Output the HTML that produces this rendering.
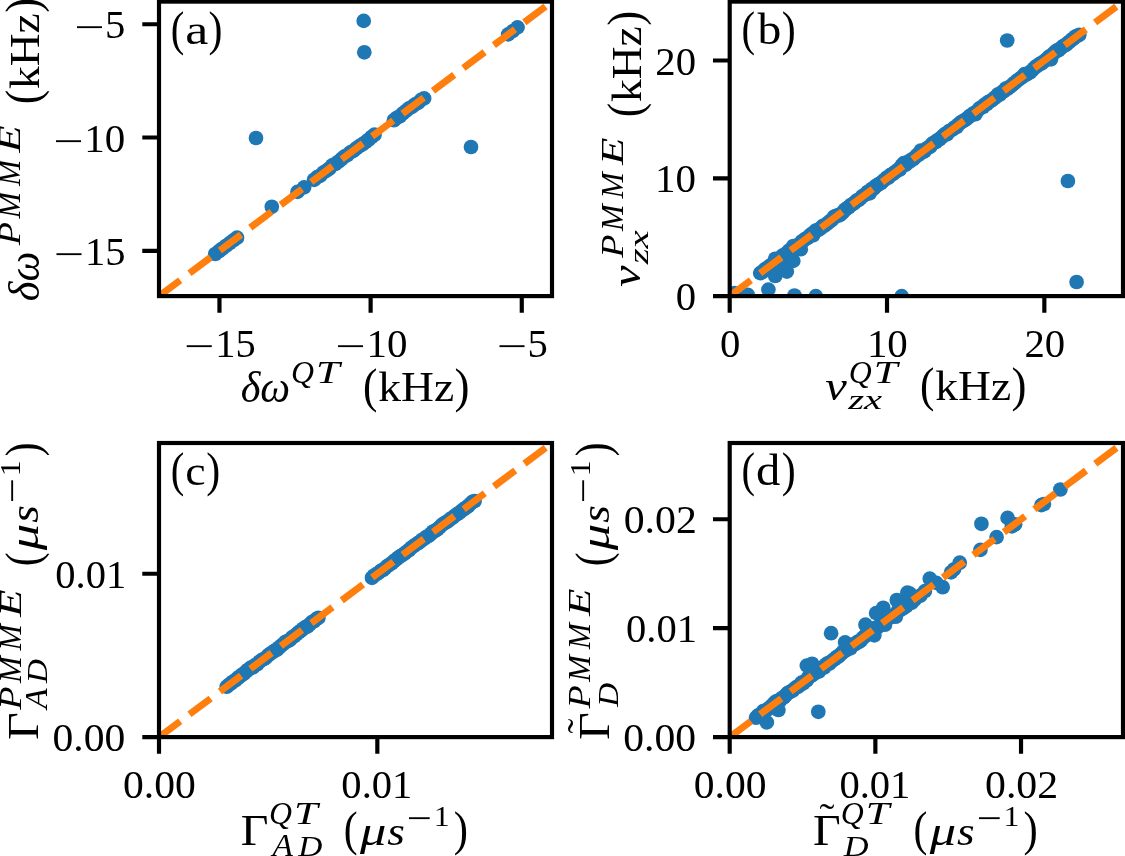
<!DOCTYPE html>
<html><head><meta charset="utf-8"><title>Figure</title>
<style>html,body{margin:0;padding:0;background:#fff}svg{display:block}</style></head>
<body>
<svg width="1125" height="856" viewBox="0 0 1125 856" font-family="'Liberation Serif', serif" fill="#000">
<rect width="1125" height="856" fill="#fff"/>
<defs>
<clipPath id="cpa"><rect x="159.0" y="1.6" width="393.00" height="294.50"/></clipPath>
<clipPath id="cpb"><rect x="729.7" y="1.6" width="393.30" height="294.50"/></clipPath>
<clipPath id="cpc"><rect x="159.0" y="443.0" width="393.00" height="294.10"/></clipPath>
<clipPath id="cpd"><rect x="729.7" y="443.0" width="393.30" height="294.10"/></clipPath>
</defs>
<g clip-path="url(#cpa)">
<g fill="#1f77b4"><circle cx="215.2" cy="254.0" r="7.35"/><circle cx="218.9" cy="251.2" r="7.35"/><circle cx="222.5" cy="248.5" r="7.35"/><circle cx="226.1" cy="245.8" r="7.35"/><circle cx="229.7" cy="243.1" r="7.35"/><circle cx="233.4" cy="240.4" r="7.35"/><circle cx="237.0" cy="237.7" r="7.35"/><circle cx="297.5" cy="191.9" r="7.35"/><circle cx="304.1" cy="187.4" r="7.35"/><circle cx="314.1" cy="179.8" r="7.35"/><circle cx="317.1" cy="177.1" r="7.35"/><circle cx="320.1" cy="175.8" r="7.35"/><circle cx="323.2" cy="172.6" r="7.35"/><circle cx="326.2" cy="170.9" r="7.35"/><circle cx="329.2" cy="168.7" r="7.35"/><circle cx="332.2" cy="165.4" r="7.35"/><circle cx="335.2" cy="164.0" r="7.35"/><circle cx="338.3" cy="161.8" r="7.35"/><circle cx="341.3" cy="159.2" r="7.35"/><circle cx="344.3" cy="156.7" r="7.35"/><circle cx="347.3" cy="155.0" r="7.35"/><circle cx="350.4" cy="152.4" r="7.35"/><circle cx="353.4" cy="150.9" r="7.35"/><circle cx="356.4" cy="148.3" r="7.35"/><circle cx="359.4" cy="146.1" r="7.35"/><circle cx="362.5" cy="144.2" r="7.35"/><circle cx="365.5" cy="142.1" r="7.35"/><circle cx="368.5" cy="139.8" r="7.35"/><circle cx="371.5" cy="137.0" r="7.35"/><circle cx="374.5" cy="134.7" r="7.35"/><circle cx="393.9" cy="120.2" r="7.35"/><circle cx="396.9" cy="117.8" r="7.35"/><circle cx="399.9" cy="116.2" r="7.35"/><circle cx="403.0" cy="113.3" r="7.35"/><circle cx="406.0" cy="110.9" r="7.35"/><circle cx="409.0" cy="108.4" r="7.35"/><circle cx="412.0" cy="106.9" r="7.35"/><circle cx="415.1" cy="104.4" r="7.35"/><circle cx="418.1" cy="102.9" r="7.35"/><circle cx="421.1" cy="99.9" r="7.35"/><circle cx="424.1" cy="98.4" r="7.35"/><circle cx="508.2" cy="34.4" r="7.35"/><circle cx="512.7" cy="31.1" r="7.35"/><circle cx="517.5" cy="27.4" r="7.35"/><circle cx="256.0" cy="138.0" r="7.35"/><circle cx="271.8" cy="206.8" r="7.35"/><circle cx="363.7" cy="20.9" r="7.35"/><circle cx="364.3" cy="52.3" r="7.35"/><circle cx="471.0" cy="147.0" r="7.35"/></g>
<line x1="159.0" y1="296.1" x2="552.0" y2="1.6" stroke="#ff7f0e" stroke-width="7.0" stroke-dasharray="26.5 11.54"/>
</g>
<path d="M219.46 296.1v16.7M370.62 296.1v16.7M521.77 296.1v16.7M159.0 250.79h-16.7M159.0 137.52h-16.7M159.0 24.25h-16.7" stroke="#000" stroke-width="4.17" fill="none"/>
<rect x="159.0" y="1.6" width="393.00" height="294.50" fill="none" stroke="#000" stroke-width="4.17"/>
<g clip-path="url(#cpb)">
<g fill="#1f77b4"><circle cx="760.2" cy="273.1" r="7.35"/><circle cx="762.1" cy="272.3" r="7.35"/><circle cx="764.0" cy="270.2" r="7.35"/><circle cx="765.9" cy="268.6" r="7.35"/><circle cx="767.8" cy="268.2" r="7.35"/><circle cx="769.7" cy="265.9" r="7.35"/><circle cx="771.5" cy="265.1" r="7.35"/><circle cx="773.4" cy="263.1" r="7.35"/><circle cx="775.3" cy="261.4" r="7.35"/><circle cx="777.2" cy="260.9" r="7.35"/><circle cx="779.1" cy="258.4" r="7.35"/><circle cx="781.0" cy="257.8" r="7.35"/><circle cx="782.9" cy="255.3" r="7.35"/><circle cx="784.8" cy="255.1" r="7.35"/><circle cx="786.6" cy="253.2" r="7.35"/><circle cx="788.5" cy="251.2" r="7.35"/><circle cx="790.4" cy="249.8" r="7.35"/><circle cx="792.3" cy="248.9" r="7.35"/><circle cx="794.2" cy="247.3" r="7.35"/><circle cx="796.1" cy="247.8" r="7.35"/><circle cx="798.0" cy="244.9" r="7.35"/><circle cx="799.9" cy="246.4" r="7.35"/><circle cx="801.8" cy="241.4" r="7.35"/><circle cx="803.6" cy="240.5" r="7.35"/><circle cx="805.5" cy="238.8" r="7.35"/><circle cx="807.4" cy="238.0" r="7.35"/><circle cx="809.3" cy="235.9" r="7.35"/><circle cx="811.2" cy="234.2" r="7.35"/><circle cx="813.1" cy="235.3" r="7.35"/><circle cx="815.0" cy="231.2" r="7.35"/><circle cx="816.9" cy="230.0" r="7.35"/><circle cx="818.7" cy="229.7" r="7.35"/><circle cx="820.6" cy="228.4" r="7.35"/><circle cx="822.5" cy="226.2" r="7.35"/><circle cx="824.4" cy="225.7" r="7.35"/><circle cx="826.3" cy="224.1" r="7.35"/><circle cx="828.2" cy="222.9" r="7.35"/><circle cx="830.1" cy="221.0" r="7.35"/><circle cx="832.0" cy="219.9" r="7.35"/><circle cx="833.8" cy="216.9" r="7.35"/><circle cx="835.7" cy="216.2" r="7.35"/><circle cx="837.6" cy="215.3" r="7.35"/><circle cx="839.5" cy="215.4" r="7.35"/><circle cx="841.4" cy="213.8" r="7.35"/><circle cx="843.3" cy="211.7" r="7.35"/><circle cx="845.2" cy="209.5" r="7.35"/><circle cx="847.1" cy="208.2" r="7.35"/><circle cx="848.9" cy="207.1" r="7.35"/><circle cx="850.8" cy="205.0" r="7.35"/><circle cx="852.7" cy="204.1" r="7.35"/><circle cx="854.6" cy="202.8" r="7.35"/><circle cx="856.5" cy="200.7" r="7.35"/><circle cx="858.4" cy="200.1" r="7.35"/><circle cx="860.3" cy="198.6" r="7.35"/><circle cx="862.2" cy="196.3" r="7.35"/><circle cx="864.1" cy="195.4" r="7.35"/><circle cx="865.9" cy="193.9" r="7.35"/><circle cx="867.8" cy="191.8" r="7.35"/><circle cx="869.7" cy="193.3" r="7.35"/><circle cx="871.6" cy="189.0" r="7.35"/><circle cx="873.5" cy="188.9" r="7.35"/><circle cx="875.4" cy="186.2" r="7.35"/><circle cx="877.3" cy="185.4" r="7.35"/><circle cx="879.2" cy="183.8" r="7.35"/><circle cx="881.0" cy="183.1" r="7.35"/><circle cx="882.9" cy="181.1" r="7.35"/><circle cx="884.8" cy="179.6" r="7.35"/><circle cx="886.7" cy="177.7" r="7.35"/><circle cx="888.6" cy="177.6" r="7.35"/><circle cx="890.5" cy="174.9" r="7.35"/><circle cx="892.4" cy="174.4" r="7.35"/><circle cx="894.3" cy="172.7" r="7.35"/><circle cx="896.1" cy="171.5" r="7.35"/><circle cx="898.0" cy="169.6" r="7.35"/><circle cx="899.9" cy="169.5" r="7.35"/><circle cx="901.8" cy="165.5" r="7.35"/><circle cx="903.7" cy="163.1" r="7.35"/><circle cx="905.6" cy="164.7" r="7.35"/><circle cx="907.5" cy="162.0" r="7.35"/><circle cx="909.4" cy="161.9" r="7.35"/><circle cx="911.2" cy="159.8" r="7.35"/><circle cx="913.1" cy="159.3" r="7.35"/><circle cx="915.0" cy="157.5" r="7.35"/><circle cx="916.9" cy="155.1" r="7.35"/><circle cx="918.8" cy="154.7" r="7.35"/><circle cx="920.7" cy="150.6" r="7.35"/><circle cx="922.6" cy="152.0" r="7.35"/><circle cx="924.5" cy="151.3" r="7.35"/><circle cx="926.3" cy="148.9" r="7.35"/><circle cx="928.2" cy="147.5" r="7.35"/><circle cx="930.1" cy="146.7" r="7.35"/><circle cx="932.0" cy="143.9" r="7.35"/><circle cx="933.9" cy="142.6" r="7.35"/><circle cx="935.8" cy="142.0" r="7.35"/><circle cx="937.7" cy="140.0" r="7.35"/><circle cx="939.6" cy="139.4" r="7.35"/><circle cx="941.5" cy="137.4" r="7.35"/><circle cx="943.3" cy="135.6" r="7.35"/><circle cx="945.2" cy="133.9" r="7.35"/><circle cx="947.1" cy="134.3" r="7.35"/><circle cx="949.0" cy="131.2" r="7.35"/><circle cx="950.9" cy="130.4" r="7.35"/><circle cx="952.8" cy="129.2" r="7.35"/><circle cx="954.7" cy="127.3" r="7.35"/><circle cx="956.6" cy="127.0" r="7.35"/><circle cx="958.4" cy="124.4" r="7.35"/><circle cx="960.3" cy="122.9" r="7.35"/><circle cx="962.2" cy="121.5" r="7.35"/><circle cx="964.1" cy="120.5" r="7.35"/><circle cx="966.0" cy="119.3" r="7.35"/><circle cx="967.9" cy="117.9" r="7.35"/><circle cx="969.8" cy="115.9" r="7.35"/><circle cx="971.7" cy="115.1" r="7.35"/><circle cx="973.5" cy="113.3" r="7.35"/><circle cx="975.4" cy="114.2" r="7.35"/><circle cx="977.3" cy="110.9" r="7.35"/><circle cx="979.2" cy="108.7" r="7.35"/><circle cx="981.1" cy="107.4" r="7.35"/><circle cx="983.0" cy="107.1" r="7.35"/><circle cx="984.9" cy="104.4" r="7.35"/><circle cx="986.8" cy="104.0" r="7.35"/><circle cx="988.6" cy="101.8" r="7.35"/><circle cx="990.5" cy="101.0" r="7.35"/><circle cx="992.4" cy="99.9" r="7.35"/><circle cx="994.3" cy="98.0" r="7.35"/><circle cx="996.2" cy="96.7" r="7.35"/><circle cx="998.1" cy="94.3" r="7.35"/><circle cx="1000.0" cy="94.5" r="7.35"/><circle cx="1001.9" cy="92.2" r="7.35"/><circle cx="1003.8" cy="91.2" r="7.35"/><circle cx="1005.6" cy="88.7" r="7.35"/><circle cx="1007.5" cy="88.7" r="7.35"/><circle cx="1009.4" cy="87.0" r="7.35"/><circle cx="1011.3" cy="85.9" r="7.35"/><circle cx="1013.2" cy="83.9" r="7.35"/><circle cx="1015.1" cy="82.5" r="7.35"/><circle cx="1017.0" cy="80.8" r="7.35"/><circle cx="1018.9" cy="79.4" r="7.35"/><circle cx="1020.7" cy="78.1" r="7.35"/><circle cx="1022.6" cy="76.7" r="7.35"/><circle cx="1024.5" cy="74.2" r="7.35"/><circle cx="1026.4" cy="74.5" r="7.35"/><circle cx="1028.3" cy="73.3" r="7.35"/><circle cx="1030.2" cy="72.3" r="7.35"/><circle cx="1032.1" cy="70.4" r="7.35"/><circle cx="1034.0" cy="68.4" r="7.35"/><circle cx="1035.8" cy="66.7" r="7.35"/><circle cx="1037.7" cy="65.5" r="7.35"/><circle cx="1039.6" cy="63.9" r="7.35"/><circle cx="1041.5" cy="63.5" r="7.35"/><circle cx="1043.4" cy="61.8" r="7.35"/><circle cx="1045.3" cy="60.3" r="7.35"/><circle cx="1047.2" cy="58.7" r="7.35"/><circle cx="1049.1" cy="56.7" r="7.35"/><circle cx="1050.9" cy="59.4" r="7.35"/><circle cx="1052.8" cy="54.1" r="7.35"/><circle cx="1054.7" cy="52.3" r="7.35"/><circle cx="1056.6" cy="50.7" r="7.35"/><circle cx="1058.5" cy="50.4" r="7.35"/><circle cx="1060.4" cy="48.5" r="7.35"/><circle cx="1062.3" cy="46.9" r="7.35"/><circle cx="1064.2" cy="45.5" r="7.35"/><circle cx="1066.1" cy="44.8" r="7.35"/><circle cx="1067.9" cy="42.9" r="7.35"/><circle cx="1069.8" cy="41.5" r="7.35"/><circle cx="1071.7" cy="39.7" r="7.35"/><circle cx="1073.6" cy="38.5" r="7.35"/><circle cx="1075.5" cy="36.5" r="7.35"/><circle cx="1077.4" cy="35.9" r="7.35"/><circle cx="1079.3" cy="34.8" r="7.35"/><circle cx="1007.2" cy="40.5" r="7.35"/><circle cx="1067.9" cy="181.0" r="7.35"/><circle cx="1076.6" cy="282.0" r="7.35"/><circle cx="734.4" cy="293.2" r="7.35"/><circle cx="747.8" cy="294.9" r="7.35"/><circle cx="768.4" cy="289.6" r="7.35"/><circle cx="794.5" cy="295.5" r="7.35"/><circle cx="815.8" cy="296.1" r="7.35"/><circle cx="901.7" cy="296.1" r="7.35"/><circle cx="775.2" cy="276.0" r="7.35"/><circle cx="786.8" cy="271.6" r="7.35"/><circle cx="793.3" cy="260.9" r="7.35"/><circle cx="800.8" cy="249.2" r="7.35"/><circle cx="775.2" cy="258.8" r="7.35"/><circle cx="793.3" cy="246.0" r="7.35"/><circle cx="781.6" cy="267.8" r="7.35"/></g>
<line x1="729.7" y1="296.1" x2="1123.0" y2="1.6" stroke="#ff7f0e" stroke-width="7.0" stroke-dasharray="26.5 11.54"/>
</g>
<path d="M729.70 296.1v16.7M887.02 296.1v16.7M1044.34 296.1v16.7M729.7 296.10h-16.7M729.7 178.30h-16.7M729.7 60.50h-16.7" stroke="#000" stroke-width="4.17" fill="none"/>
<rect x="729.7" y="1.6" width="393.30" height="294.50" fill="none" stroke="#000" stroke-width="4.17"/>
<g clip-path="url(#cpc)">
<g fill="#1f77b4"><circle cx="226.7" cy="686.7" r="7.35"/><circle cx="228.9" cy="684.9" r="7.35"/><circle cx="231.1" cy="683.2" r="7.35"/><circle cx="233.2" cy="681.5" r="7.35"/><circle cx="235.4" cy="680.2" r="7.35"/><circle cx="237.6" cy="678.2" r="7.35"/><circle cx="239.8" cy="676.5" r="7.35"/><circle cx="242.0" cy="674.7" r="7.35"/><circle cx="244.1" cy="673.6" r="7.35"/><circle cx="246.3" cy="671.2" r="7.35"/><circle cx="248.5" cy="669.5" r="7.35"/><circle cx="250.7" cy="667.7" r="7.35"/><circle cx="252.9" cy="667.3" r="7.35"/><circle cx="255.1" cy="665.2" r="7.35"/><circle cx="257.2" cy="664.2" r="7.35"/><circle cx="259.4" cy="661.8" r="7.35"/><circle cx="261.6" cy="660.1" r="7.35"/><circle cx="263.8" cy="659.0" r="7.35"/><circle cx="266.0" cy="657.6" r="7.35"/><circle cx="268.2" cy="655.3" r="7.35"/><circle cx="270.4" cy="653.6" r="7.35"/><circle cx="272.5" cy="652.4" r="7.35"/><circle cx="274.7" cy="650.6" r="7.35"/><circle cx="276.9" cy="649.7" r="7.35"/><circle cx="279.1" cy="647.5" r="7.35"/><circle cx="281.3" cy="645.6" r="7.35"/><circle cx="283.5" cy="643.9" r="7.35"/><circle cx="285.6" cy="641.8" r="7.35"/><circle cx="287.8" cy="641.1" r="7.35"/><circle cx="290.0" cy="639.8" r="7.35"/><circle cx="292.2" cy="637.3" r="7.35"/><circle cx="294.4" cy="636.0" r="7.35"/><circle cx="296.6" cy="634.1" r="7.35"/><circle cx="298.7" cy="632.3" r="7.35"/><circle cx="300.9" cy="630.7" r="7.35"/><circle cx="303.1" cy="628.8" r="7.35"/><circle cx="305.3" cy="627.2" r="7.35"/><circle cx="307.5" cy="626.5" r="7.35"/><circle cx="309.7" cy="624.4" r="7.35"/><circle cx="311.8" cy="622.1" r="7.35"/><circle cx="314.0" cy="621.2" r="7.35"/><circle cx="316.2" cy="619.1" r="7.35"/><circle cx="318.4" cy="617.8" r="7.35"/><circle cx="372.0" cy="577.8" r="7.35"/><circle cx="374.2" cy="575.5" r="7.35"/><circle cx="376.4" cy="574.1" r="7.35"/><circle cx="378.6" cy="572.9" r="7.35"/><circle cx="380.7" cy="570.9" r="7.35"/><circle cx="382.9" cy="570.0" r="7.35"/><circle cx="385.1" cy="568.1" r="7.35"/><circle cx="387.3" cy="566.0" r="7.35"/><circle cx="389.5" cy="564.6" r="7.35"/><circle cx="391.7" cy="563.3" r="7.35"/><circle cx="393.8" cy="561.2" r="7.35"/><circle cx="396.0" cy="559.6" r="7.35"/><circle cx="398.2" cy="557.7" r="7.35"/><circle cx="400.4" cy="556.1" r="7.35"/><circle cx="402.6" cy="554.9" r="7.35"/><circle cx="404.8" cy="553.3" r="7.35"/><circle cx="406.9" cy="551.6" r="7.35"/><circle cx="409.1" cy="550.0" r="7.35"/><circle cx="411.3" cy="547.8" r="7.35"/><circle cx="413.5" cy="546.1" r="7.35"/><circle cx="415.7" cy="544.6" r="7.35"/><circle cx="417.9" cy="543.3" r="7.35"/><circle cx="420.0" cy="541.8" r="7.35"/><circle cx="422.2" cy="539.8" r="7.35"/><circle cx="424.4" cy="538.6" r="7.35"/><circle cx="426.6" cy="536.8" r="7.35"/><circle cx="428.8" cy="535.8" r="7.35"/><circle cx="431.0" cy="533.7" r="7.35"/><circle cx="433.1" cy="531.5" r="7.35"/><circle cx="435.3" cy="530.7" r="7.35"/><circle cx="437.5" cy="529.2" r="7.35"/><circle cx="439.7" cy="527.1" r="7.35"/><circle cx="441.9" cy="524.9" r="7.35"/><circle cx="444.1" cy="523.3" r="7.35"/><circle cx="446.2" cy="522.3" r="7.35"/><circle cx="448.4" cy="520.7" r="7.35"/><circle cx="450.6" cy="518.9" r="7.35"/><circle cx="452.8" cy="517.5" r="7.35"/><circle cx="455.0" cy="515.6" r="7.35"/><circle cx="457.2" cy="514.1" r="7.35"/><circle cx="459.3" cy="512.8" r="7.35"/><circle cx="461.5" cy="510.9" r="7.35"/><circle cx="463.7" cy="509.2" r="7.35"/><circle cx="465.9" cy="507.7" r="7.35"/><circle cx="468.1" cy="506.2" r="7.35"/><circle cx="470.3" cy="503.9" r="7.35"/><circle cx="472.4" cy="501.9" r="7.35"/><circle cx="474.6" cy="501.0" r="7.35"/></g>
<line x1="159.0" y1="737.1" x2="552.0" y2="443.0" stroke="#ff7f0e" stroke-width="7.0" stroke-dasharray="26.5 11.54"/>
</g>
<path d="M159.00 737.1v16.7M377.33 737.1v16.7M159.0 737.10h-16.7M159.0 573.71h-16.7" stroke="#000" stroke-width="4.17" fill="none"/>
<rect x="159.0" y="443.0" width="393.00" height="294.10" fill="none" stroke="#000" stroke-width="4.17"/>
<g clip-path="url(#cpd)">
<g fill="#1f77b4"><circle cx="756.1" cy="717.7" r="7.35"/><circle cx="757.8" cy="715.7" r="7.35"/><circle cx="759.6" cy="714.9" r="7.35"/><circle cx="761.3" cy="714.1" r="7.35"/><circle cx="763.1" cy="711.1" r="7.35"/><circle cx="764.8" cy="711.6" r="7.35"/><circle cx="766.6" cy="710.1" r="7.35"/><circle cx="768.3" cy="708.7" r="7.35"/><circle cx="770.0" cy="707.6" r="7.35"/><circle cx="771.8" cy="705.8" r="7.35"/><circle cx="773.5" cy="703.9" r="7.35"/><circle cx="775.3" cy="701.9" r="7.35"/><circle cx="777.0" cy="701.2" r="7.35"/><circle cx="778.8" cy="700.4" r="7.35"/><circle cx="780.5" cy="700.0" r="7.35"/><circle cx="782.3" cy="697.8" r="7.35"/><circle cx="784.0" cy="697.2" r="7.35"/><circle cx="785.8" cy="695.2" r="7.35"/><circle cx="787.5" cy="693.1" r="7.35"/><circle cx="789.3" cy="692.4" r="7.35"/><circle cx="791.0" cy="691.4" r="7.35"/><circle cx="792.8" cy="690.5" r="7.35"/><circle cx="794.5" cy="688.6" r="7.35"/><circle cx="796.3" cy="687.2" r="7.35"/><circle cx="798.0" cy="686.7" r="7.35"/><circle cx="799.8" cy="685.1" r="7.35"/><circle cx="801.5" cy="682.7" r="7.35"/><circle cx="803.3" cy="683.4" r="7.35"/><circle cx="805.0" cy="681.1" r="7.35"/><circle cx="806.8" cy="680.4" r="7.35"/><circle cx="808.5" cy="677.0" r="7.35"/><circle cx="810.3" cy="676.4" r="7.35"/><circle cx="812.0" cy="675.2" r="7.35"/><circle cx="813.7" cy="673.9" r="7.35"/><circle cx="815.5" cy="672.7" r="7.35"/><circle cx="817.2" cy="671.4" r="7.35"/><circle cx="819.0" cy="671.5" r="7.35"/><circle cx="820.7" cy="668.8" r="7.35"/><circle cx="822.5" cy="667.3" r="7.35"/><circle cx="824.2" cy="667.5" r="7.35"/><circle cx="826.0" cy="664.5" r="7.35"/><circle cx="827.7" cy="663.3" r="7.35"/><circle cx="829.5" cy="663.6" r="7.35"/><circle cx="831.2" cy="661.5" r="7.35"/><circle cx="833.0" cy="660.1" r="7.35"/><circle cx="834.7" cy="659.0" r="7.35"/><circle cx="836.5" cy="657.0" r="7.35"/><circle cx="838.2" cy="656.9" r="7.35"/><circle cx="840.0" cy="654.8" r="7.35"/><circle cx="841.7" cy="653.2" r="7.35"/><circle cx="843.5" cy="651.5" r="7.35"/><circle cx="845.2" cy="650.7" r="7.35"/><circle cx="847.0" cy="649.6" r="7.35"/><circle cx="848.7" cy="647.6" r="7.35"/><circle cx="850.5" cy="648.3" r="7.35"/><circle cx="852.2" cy="644.8" r="7.35"/><circle cx="854.0" cy="644.4" r="7.35"/><circle cx="855.7" cy="643.8" r="7.35"/><circle cx="857.4" cy="641.9" r="7.35"/><circle cx="859.2" cy="641.7" r="7.35"/><circle cx="860.9" cy="640.5" r="7.35"/><circle cx="862.7" cy="637.9" r="7.35"/><circle cx="864.4" cy="636.9" r="7.35"/><circle cx="866.2" cy="634.5" r="7.35"/><circle cx="867.9" cy="634.4" r="7.35"/><circle cx="869.7" cy="633.4" r="7.35"/><circle cx="871.4" cy="631.8" r="7.35"/><circle cx="873.2" cy="628.5" r="7.35"/><circle cx="874.9" cy="628.5" r="7.35"/><circle cx="876.7" cy="627.7" r="7.35"/><circle cx="878.4" cy="626.6" r="7.35"/><circle cx="880.2" cy="625.4" r="7.35"/><circle cx="881.9" cy="623.4" r="7.35"/><circle cx="883.7" cy="621.6" r="7.35"/><circle cx="885.4" cy="619.8" r="7.35"/><circle cx="887.2" cy="618.5" r="7.35"/><circle cx="888.9" cy="617.8" r="7.35"/><circle cx="890.7" cy="617.2" r="7.35"/><circle cx="892.4" cy="616.1" r="7.35"/><circle cx="894.2" cy="615.9" r="7.35"/><circle cx="895.9" cy="613.6" r="7.35"/><circle cx="897.7" cy="611.2" r="7.35"/><circle cx="899.4" cy="610.5" r="7.35"/><circle cx="901.1" cy="608.6" r="7.35"/><circle cx="902.9" cy="608.6" r="7.35"/><circle cx="904.6" cy="605.6" r="7.35"/><circle cx="906.4" cy="604.7" r="7.35"/><circle cx="908.1" cy="603.6" r="7.35"/><circle cx="909.9" cy="602.1" r="7.35"/><circle cx="911.6" cy="602.8" r="7.35"/><circle cx="913.4" cy="600.2" r="7.35"/><circle cx="915.1" cy="599.1" r="7.35"/><circle cx="766.8" cy="722.4" r="7.35"/><circle cx="778.4" cy="710.0" r="7.35"/><circle cx="818.3" cy="711.8" r="7.35"/><circle cx="831.1" cy="633.2" r="7.35"/><circle cx="806.8" cy="665.6" r="7.35"/><circle cx="812.1" cy="663.8" r="7.35"/><circle cx="845.1" cy="642.4" r="7.35"/><circle cx="865.5" cy="624.7" r="7.35"/><circle cx="876.1" cy="613.1" r="7.35"/><circle cx="883.2" cy="607.8" r="7.35"/><circle cx="874.3" cy="635.4" r="7.35"/><circle cx="897.4" cy="600.7" r="7.35"/><circle cx="909.9" cy="593.6" r="7.35"/><circle cx="885.0" cy="624.7" r="7.35"/><circle cx="895.8" cy="616.7" r="7.35"/><circle cx="1060.4" cy="489.5" r="7.35"/><circle cx="1043.9" cy="504.0" r="7.35"/><circle cx="1041.4" cy="505.1" r="7.35"/><circle cx="1007.6" cy="517.9" r="7.35"/><circle cx="1015.1" cy="524.3" r="7.35"/><circle cx="1011.9" cy="526.4" r="7.35"/><circle cx="981.4" cy="523.8" r="7.35"/><circle cx="996.6" cy="537.1" r="7.35"/><circle cx="980.4" cy="549.9" r="7.35"/><circle cx="959.7" cy="562.7" r="7.35"/><circle cx="951.1" cy="572.3" r="7.35"/><circle cx="954.0" cy="569.4" r="7.35"/><circle cx="929.8" cy="578.7" r="7.35"/><circle cx="942.7" cy="587.2" r="7.35"/><circle cx="936.3" cy="582.9" r="7.35"/><circle cx="907.4" cy="592.6" r="7.35"/><circle cx="920.2" cy="595.7" r="7.35"/><circle cx="896.8" cy="600.0" r="7.35"/><circle cx="906.2" cy="606.4" r="7.35"/><circle cx="924.9" cy="591.1" r="7.35"/></g>
<line x1="729.7" y1="737.1" x2="1123.0" y2="443.0" stroke="#ff7f0e" stroke-width="7.0" stroke-dasharray="26.5 11.54"/>
</g>
<path d="M729.70 737.1v16.7M875.37 737.1v16.7M1021.03 737.1v16.7M729.7 737.10h-16.7M729.7 628.17h-16.7M729.7 519.25h-16.7" stroke="#000" stroke-width="4.17" fill="none"/>
<rect x="729.7" y="443.0" width="393.30" height="294.10" fill="none" stroke="#000" stroke-width="4.17"/>
<text><tspan x="184.12" y="359.33" font-size="38.00" textLength="30.38" lengthAdjust="spacingAndGlyphs">−</tspan><tspan x="215.33" y="357.20" font-size="40.15" textLength="40.51" lengthAdjust="spacingAndGlyphs">15</tspan></text>
<text><tspan x="335.28" y="359.33" font-size="38.00" textLength="30.38" lengthAdjust="spacingAndGlyphs">−</tspan><tspan x="366.45" y="357.20" font-size="39.85" textLength="40.95" lengthAdjust="spacingAndGlyphs">10</tspan></text>
<text><tspan x="496.68" y="359.33" font-size="38.00" textLength="30.38" lengthAdjust="spacingAndGlyphs">−</tspan><tspan x="527.58" y="357.20" font-size="40.45" textLength="20.32" lengthAdjust="spacingAndGlyphs">5</tspan></text>
<text><tspan x="53.70" y="267.03" font-size="38.00" textLength="30.38" lengthAdjust="spacingAndGlyphs">−</tspan><tspan x="84.91" y="264.89" font-size="40.15" textLength="40.51" lengthAdjust="spacingAndGlyphs">15</tspan></text>
<text><tspan x="53.21" y="153.76" font-size="38.00" textLength="30.38" lengthAdjust="spacingAndGlyphs">−</tspan><tspan x="84.38" y="151.62" font-size="39.85" textLength="40.95" lengthAdjust="spacingAndGlyphs">10</tspan></text>
<text><tspan x="74.20" y="40.49" font-size="38.00" textLength="30.38" lengthAdjust="spacingAndGlyphs">−</tspan><tspan x="105.10" y="38.35" font-size="40.45" textLength="20.32" lengthAdjust="spacingAndGlyphs">5</tspan></text>
<text><tspan x="719.92" y="357.20" font-size="39.85" textLength="20.36" lengthAdjust="spacingAndGlyphs">0</tspan></text>
<text><tspan x="866.90" y="357.20" font-size="39.85" textLength="40.95" lengthAdjust="spacingAndGlyphs">10</tspan></text>
<text><tspan x="1024.46" y="357.20" font-size="39.85" textLength="40.71" lengthAdjust="spacingAndGlyphs">20</tspan></text>
<text><tspan x="675.67" y="310.20" font-size="39.85" textLength="20.36" lengthAdjust="spacingAndGlyphs">0</tspan></text>
<text><tspan x="655.08" y="192.40" font-size="39.85" textLength="40.95" lengthAdjust="spacingAndGlyphs">10</tspan></text>
<text><tspan x="655.32" y="74.60" font-size="39.85" textLength="40.71" lengthAdjust="spacingAndGlyphs">20</tspan></text>
<text><tspan x="122.99" y="798.01" font-size="39.56" textLength="72.82" lengthAdjust="spacingAndGlyphs">0.00</tspan></text>
<text><tspan x="341.36" y="798.01" font-size="39.56" textLength="70.95" lengthAdjust="spacingAndGlyphs">0.01</tspan></text>
<text><tspan x="52.54" y="751.01" font-size="39.56" textLength="72.82" lengthAdjust="spacingAndGlyphs">0.00</tspan></text>
<text><tspan x="55.29" y="587.62" font-size="39.56" textLength="70.95" lengthAdjust="spacingAndGlyphs">0.01</tspan></text>
<text><tspan x="693.69" y="798.01" font-size="39.56" textLength="72.82" lengthAdjust="spacingAndGlyphs">0.00</tspan></text>
<text><tspan x="839.40" y="798.01" font-size="39.56" textLength="70.95" lengthAdjust="spacingAndGlyphs">0.01</tspan></text>
<text><tspan x="985.02" y="798.01" font-size="39.56" textLength="73.11" lengthAdjust="spacingAndGlyphs">0.02</tspan></text>
<text><tspan x="623.24" y="751.01" font-size="39.56" textLength="72.82" lengthAdjust="spacingAndGlyphs">0.00</tspan></text>
<text><tspan x="625.99" y="642.08" font-size="39.56" textLength="70.95" lengthAdjust="spacingAndGlyphs">0.01</tspan></text>
<text><tspan x="623.68" y="533.15" font-size="39.56" textLength="73.11" lengthAdjust="spacingAndGlyphs">0.02</tspan></text>
<text><tspan x="170.86" y="44.54" font-size="48.26" textLength="13.58" lengthAdjust="spacingAndGlyphs">(</tspan><tspan x="185.18" y="44.07" font-size="42.71" textLength="23.04" lengthAdjust="spacingAndGlyphs">a</tspan><tspan x="208.44" y="44.54" font-size="48.26" textLength="13.97" lengthAdjust="spacingAndGlyphs">)</tspan></text>
<text><tspan x="741.56" y="44.54" font-size="48.26" textLength="13.58" lengthAdjust="spacingAndGlyphs">(</tspan><tspan x="757.40" y="44.26" font-size="43.69" textLength="23.78" lengthAdjust="spacingAndGlyphs">b</tspan><tspan x="781.64" y="44.54" font-size="48.26" textLength="13.97" lengthAdjust="spacingAndGlyphs">)</tspan></text>
<text><tspan x="170.86" y="485.94" font-size="48.26" textLength="13.58" lengthAdjust="spacingAndGlyphs">(</tspan><tspan x="185.18" y="485.08" font-size="42.29" textLength="20.36" lengthAdjust="spacingAndGlyphs">c</tspan><tspan x="206.14" y="485.94" font-size="48.26" textLength="13.97" lengthAdjust="spacingAndGlyphs">)</tspan></text>
<text><tspan x="741.56" y="485.94" font-size="48.26" textLength="13.58" lengthAdjust="spacingAndGlyphs">(</tspan><tspan x="755.90" y="485.07" font-size="43.40" textLength="24.31" lengthAdjust="spacingAndGlyphs">d</tspan><tspan x="781.64" y="485.94" font-size="48.26" textLength="13.97" lengthAdjust="spacingAndGlyphs">)</tspan></text>
<text><tspan x="240.63" y="401.55" font-size="45.07" font-style="italic" textLength="49.50" lengthAdjust="spacingAndGlyphs">δω</tspan><tspan x="291.05" y="383.36" font-size="31.03" font-style="italic" textLength="22.98" lengthAdjust="spacingAndGlyphs">Q</tspan><tspan x="316.02" y="383.40" font-size="30.53" font-style="italic" textLength="23.76" lengthAdjust="spacingAndGlyphs">T</tspan> <tspan x="363.06" y="401.69" font-size="48.04" textLength="14.37" lengthAdjust="spacingAndGlyphs">(</tspan><tspan x="378.29" y="401.00" font-size="41.73" textLength="75.81" lengthAdjust="spacingAndGlyphs">kHz</tspan><tspan x="454.54" y="401.69" font-size="48.04" textLength="15.00" lengthAdjust="spacingAndGlyphs">)</tspan></text>
<text transform="rotate(-90)"><tspan x="-301.17" y="39.05" font-size="45.07" font-style="italic" textLength="49.50" lengthAdjust="spacingAndGlyphs">δω</tspan><tspan x="-245.31" y="20.10" font-size="30.53" font-style="italic" textLength="23.30" lengthAdjust="spacingAndGlyphs">P</tspan><tspan x="-218.60" y="20.10" font-size="30.53" font-style="italic" textLength="26.67" lengthAdjust="spacingAndGlyphs">M</tspan><tspan x="-186.11" y="20.10" font-size="30.53" font-style="italic" textLength="26.21" lengthAdjust="spacingAndGlyphs">M</tspan><tspan x="-152.74" y="20.10" font-size="30.53" font-style="italic" textLength="27.45" lengthAdjust="spacingAndGlyphs">E</tspan> <tspan x="-104.24" y="39.19" font-size="48.04" textLength="14.37" lengthAdjust="spacingAndGlyphs">(</tspan><tspan x="-89.01" y="38.50" font-size="41.73" textLength="75.81" lengthAdjust="spacingAndGlyphs">kHz</tspan><tspan x="-12.76" y="39.19" font-size="48.04" textLength="15.00" lengthAdjust="spacingAndGlyphs">)</tspan></text>
<text><tspan x="825.17" y="400.19" font-size="40.64" font-style="italic" textLength="21.57" lengthAdjust="spacingAndGlyphs">ν</tspan><tspan x="848.75" y="382.66" font-size="31.03" font-style="italic" textLength="22.98" lengthAdjust="spacingAndGlyphs">Q</tspan><tspan x="873.72" y="382.70" font-size="30.53" font-style="italic" textLength="23.76" lengthAdjust="spacingAndGlyphs">T</tspan><tspan x="848.21" y="408.80" font-size="28.26" font-style="italic" textLength="34.02" lengthAdjust="spacingAndGlyphs">zx</tspan> <tspan x="920.06" y="400.99" font-size="48.04" textLength="14.37" lengthAdjust="spacingAndGlyphs">(</tspan><tspan x="935.29" y="400.30" font-size="41.73" textLength="75.81" lengthAdjust="spacingAndGlyphs">kHz</tspan><tspan x="1011.54" y="400.99" font-size="48.04" textLength="15.00" lengthAdjust="spacingAndGlyphs">)</tspan></text>
<text transform="rotate(-90)"><tspan x="-287.03" y="640.39" font-size="40.64" font-style="italic" textLength="21.57" lengthAdjust="spacingAndGlyphs">ν</tspan><tspan x="-257.71" y="622.60" font-size="30.53" font-style="italic" textLength="23.30" lengthAdjust="spacingAndGlyphs">P</tspan><tspan x="-231.00" y="622.60" font-size="30.53" font-style="italic" textLength="26.67" lengthAdjust="spacingAndGlyphs">M</tspan><tspan x="-198.51" y="622.60" font-size="30.53" font-style="italic" textLength="26.21" lengthAdjust="spacingAndGlyphs">M</tspan><tspan x="-165.14" y="622.60" font-size="30.53" font-style="italic" textLength="27.45" lengthAdjust="spacingAndGlyphs">E</tspan><tspan x="-264.39" y="647.90" font-size="27.39" font-style="italic" textLength="34.12" lengthAdjust="spacingAndGlyphs">zx</tspan> <tspan x="-117.34" y="641.19" font-size="48.04" textLength="14.37" lengthAdjust="spacingAndGlyphs">(</tspan><tspan x="-102.11" y="640.50" font-size="41.73" textLength="75.81" lengthAdjust="spacingAndGlyphs">kHz</tspan><tspan x="-25.86" y="641.19" font-size="48.04" textLength="15.00" lengthAdjust="spacingAndGlyphs">)</tspan></text>
<text><tspan x="240.86" y="844.50" font-size="44.58" textLength="27.73" lengthAdjust="spacingAndGlyphs">Γ</tspan><tspan x="268.95" y="824.26" font-size="31.03" font-style="italic" textLength="22.98" lengthAdjust="spacingAndGlyphs">Q</tspan><tspan x="293.92" y="824.30" font-size="30.53" font-style="italic" textLength="23.76" lengthAdjust="spacingAndGlyphs">T</tspan><tspan x="272.54" y="856.30" font-size="31.82" font-style="italic" textLength="20.42" lengthAdjust="spacingAndGlyphs">A</tspan><tspan x="298.23" y="856.22" font-size="30.11" font-style="italic" textLength="24.16" lengthAdjust="spacingAndGlyphs">D</tspan> <tspan x="343.73" y="845.29" font-size="48.04" textLength="13.84" lengthAdjust="spacingAndGlyphs">(</tspan><tspan x="359.90" y="844.50" font-size="40.44" font-style="italic" textLength="26.41" lengthAdjust="spacingAndGlyphs">μ</tspan><tspan x="387.33" y="844.60" font-size="39.79" font-style="italic" textLength="17.60" lengthAdjust="spacingAndGlyphs">s</tspan><tspan x="406.87" y="831.48" font-size="38.00" textLength="25.11" lengthAdjust="spacingAndGlyphs">−</tspan><tspan x="433.82" y="825.90" font-size="28.48" textLength="15.89" lengthAdjust="spacingAndGlyphs">1</tspan><tspan x="453.71" y="845.29" font-size="48.04" textLength="14.23" lengthAdjust="spacingAndGlyphs">)</tspan></text>
<text transform="rotate(-90)"><tspan x="-740.14" y="38.20" font-size="44.58" textLength="27.73" lengthAdjust="spacingAndGlyphs">Γ</tspan><tspan x="-709.71" y="20.60" font-size="30.53" font-style="italic" textLength="23.30" lengthAdjust="spacingAndGlyphs">P</tspan><tspan x="-683.00" y="20.60" font-size="30.53" font-style="italic" textLength="26.67" lengthAdjust="spacingAndGlyphs">M</tspan><tspan x="-650.51" y="20.60" font-size="30.53" font-style="italic" textLength="26.21" lengthAdjust="spacingAndGlyphs">M</tspan><tspan x="-617.14" y="20.60" font-size="30.53" font-style="italic" textLength="27.45" lengthAdjust="spacingAndGlyphs">E</tspan><tspan x="-708.66" y="46.70" font-size="30.91" font-style="italic" textLength="20.42" lengthAdjust="spacingAndGlyphs">A</tspan><tspan x="-683.17" y="46.63" font-size="29.51" font-style="italic" textLength="24.16" lengthAdjust="spacingAndGlyphs">D</tspan> <tspan x="-566.37" y="38.99" font-size="48.04" textLength="13.84" lengthAdjust="spacingAndGlyphs">(</tspan><tspan x="-550.20" y="38.20" font-size="40.44" font-style="italic" textLength="26.41" lengthAdjust="spacingAndGlyphs">μ</tspan><tspan x="-522.77" y="38.30" font-size="39.79" font-style="italic" textLength="17.60" lengthAdjust="spacingAndGlyphs">s</tspan><tspan x="-503.23" y="25.19" font-size="38.00" textLength="25.11" lengthAdjust="spacingAndGlyphs">−</tspan><tspan x="-476.28" y="19.60" font-size="28.48" textLength="15.89" lengthAdjust="spacingAndGlyphs">1</tspan><tspan x="-456.39" y="38.99" font-size="48.04" textLength="14.23" lengthAdjust="spacingAndGlyphs">)</tspan></text>
<text><tspan x="819.45" y="829.36" font-size="36.08" textLength="14.91" lengthAdjust="spacingAndGlyphs">˜</tspan><tspan x="812.96" y="844.50" font-size="44.58" textLength="27.73" lengthAdjust="spacingAndGlyphs">Γ</tspan><tspan x="840.75" y="824.26" font-size="31.03" font-style="italic" textLength="22.98" lengthAdjust="spacingAndGlyphs">Q</tspan><tspan x="865.72" y="824.30" font-size="30.53" font-style="italic" textLength="23.76" lengthAdjust="spacingAndGlyphs">T</tspan><tspan x="843.74" y="856.22" font-size="30.11" font-style="italic" textLength="24.86" lengthAdjust="spacingAndGlyphs">D</tspan> <tspan x="913.53" y="845.29" font-size="48.04" textLength="13.84" lengthAdjust="spacingAndGlyphs">(</tspan><tspan x="929.70" y="844.50" font-size="40.44" font-style="italic" textLength="26.41" lengthAdjust="spacingAndGlyphs">μ</tspan><tspan x="957.13" y="844.60" font-size="39.79" font-style="italic" textLength="17.60" lengthAdjust="spacingAndGlyphs">s</tspan><tspan x="976.67" y="831.48" font-size="38.00" textLength="25.11" lengthAdjust="spacingAndGlyphs">−</tspan><tspan x="1003.62" y="825.90" font-size="28.48" textLength="15.89" lengthAdjust="spacingAndGlyphs">1</tspan><tspan x="1023.51" y="845.29" font-size="48.04" textLength="14.23" lengthAdjust="spacingAndGlyphs">)</tspan></text>
<text transform="rotate(-90)"><tspan x="-733.45" y="593.46" font-size="36.08" textLength="14.91" lengthAdjust="spacingAndGlyphs">˜</tspan><tspan x="-739.94" y="608.60" font-size="44.58" textLength="27.73" lengthAdjust="spacingAndGlyphs">Γ</tspan><tspan x="-708.51" y="590.20" font-size="30.53" font-style="italic" textLength="23.30" lengthAdjust="spacingAndGlyphs">P</tspan><tspan x="-681.80" y="590.20" font-size="30.53" font-style="italic" textLength="26.67" lengthAdjust="spacingAndGlyphs">M</tspan><tspan x="-649.31" y="590.20" font-size="30.53" font-style="italic" textLength="26.21" lengthAdjust="spacingAndGlyphs">M</tspan><tspan x="-615.94" y="590.20" font-size="30.53" font-style="italic" textLength="27.45" lengthAdjust="spacingAndGlyphs">E</tspan><tspan x="-706.77" y="617.52" font-size="30.27" font-style="italic" textLength="23.96" lengthAdjust="spacingAndGlyphs">D</tspan> <tspan x="-566.37" y="609.39" font-size="48.04" textLength="13.84" lengthAdjust="spacingAndGlyphs">(</tspan><tspan x="-550.20" y="608.60" font-size="40.44" font-style="italic" textLength="26.41" lengthAdjust="spacingAndGlyphs">μ</tspan><tspan x="-522.77" y="608.70" font-size="39.79" font-style="italic" textLength="17.60" lengthAdjust="spacingAndGlyphs">s</tspan><tspan x="-503.23" y="595.58" font-size="38.00" textLength="25.11" lengthAdjust="spacingAndGlyphs">−</tspan><tspan x="-476.28" y="590.00" font-size="28.48" textLength="15.89" lengthAdjust="spacingAndGlyphs">1</tspan><tspan x="-456.39" y="609.39" font-size="48.04" textLength="14.23" lengthAdjust="spacingAndGlyphs">)</tspan></text>
</svg>
</body></html>
